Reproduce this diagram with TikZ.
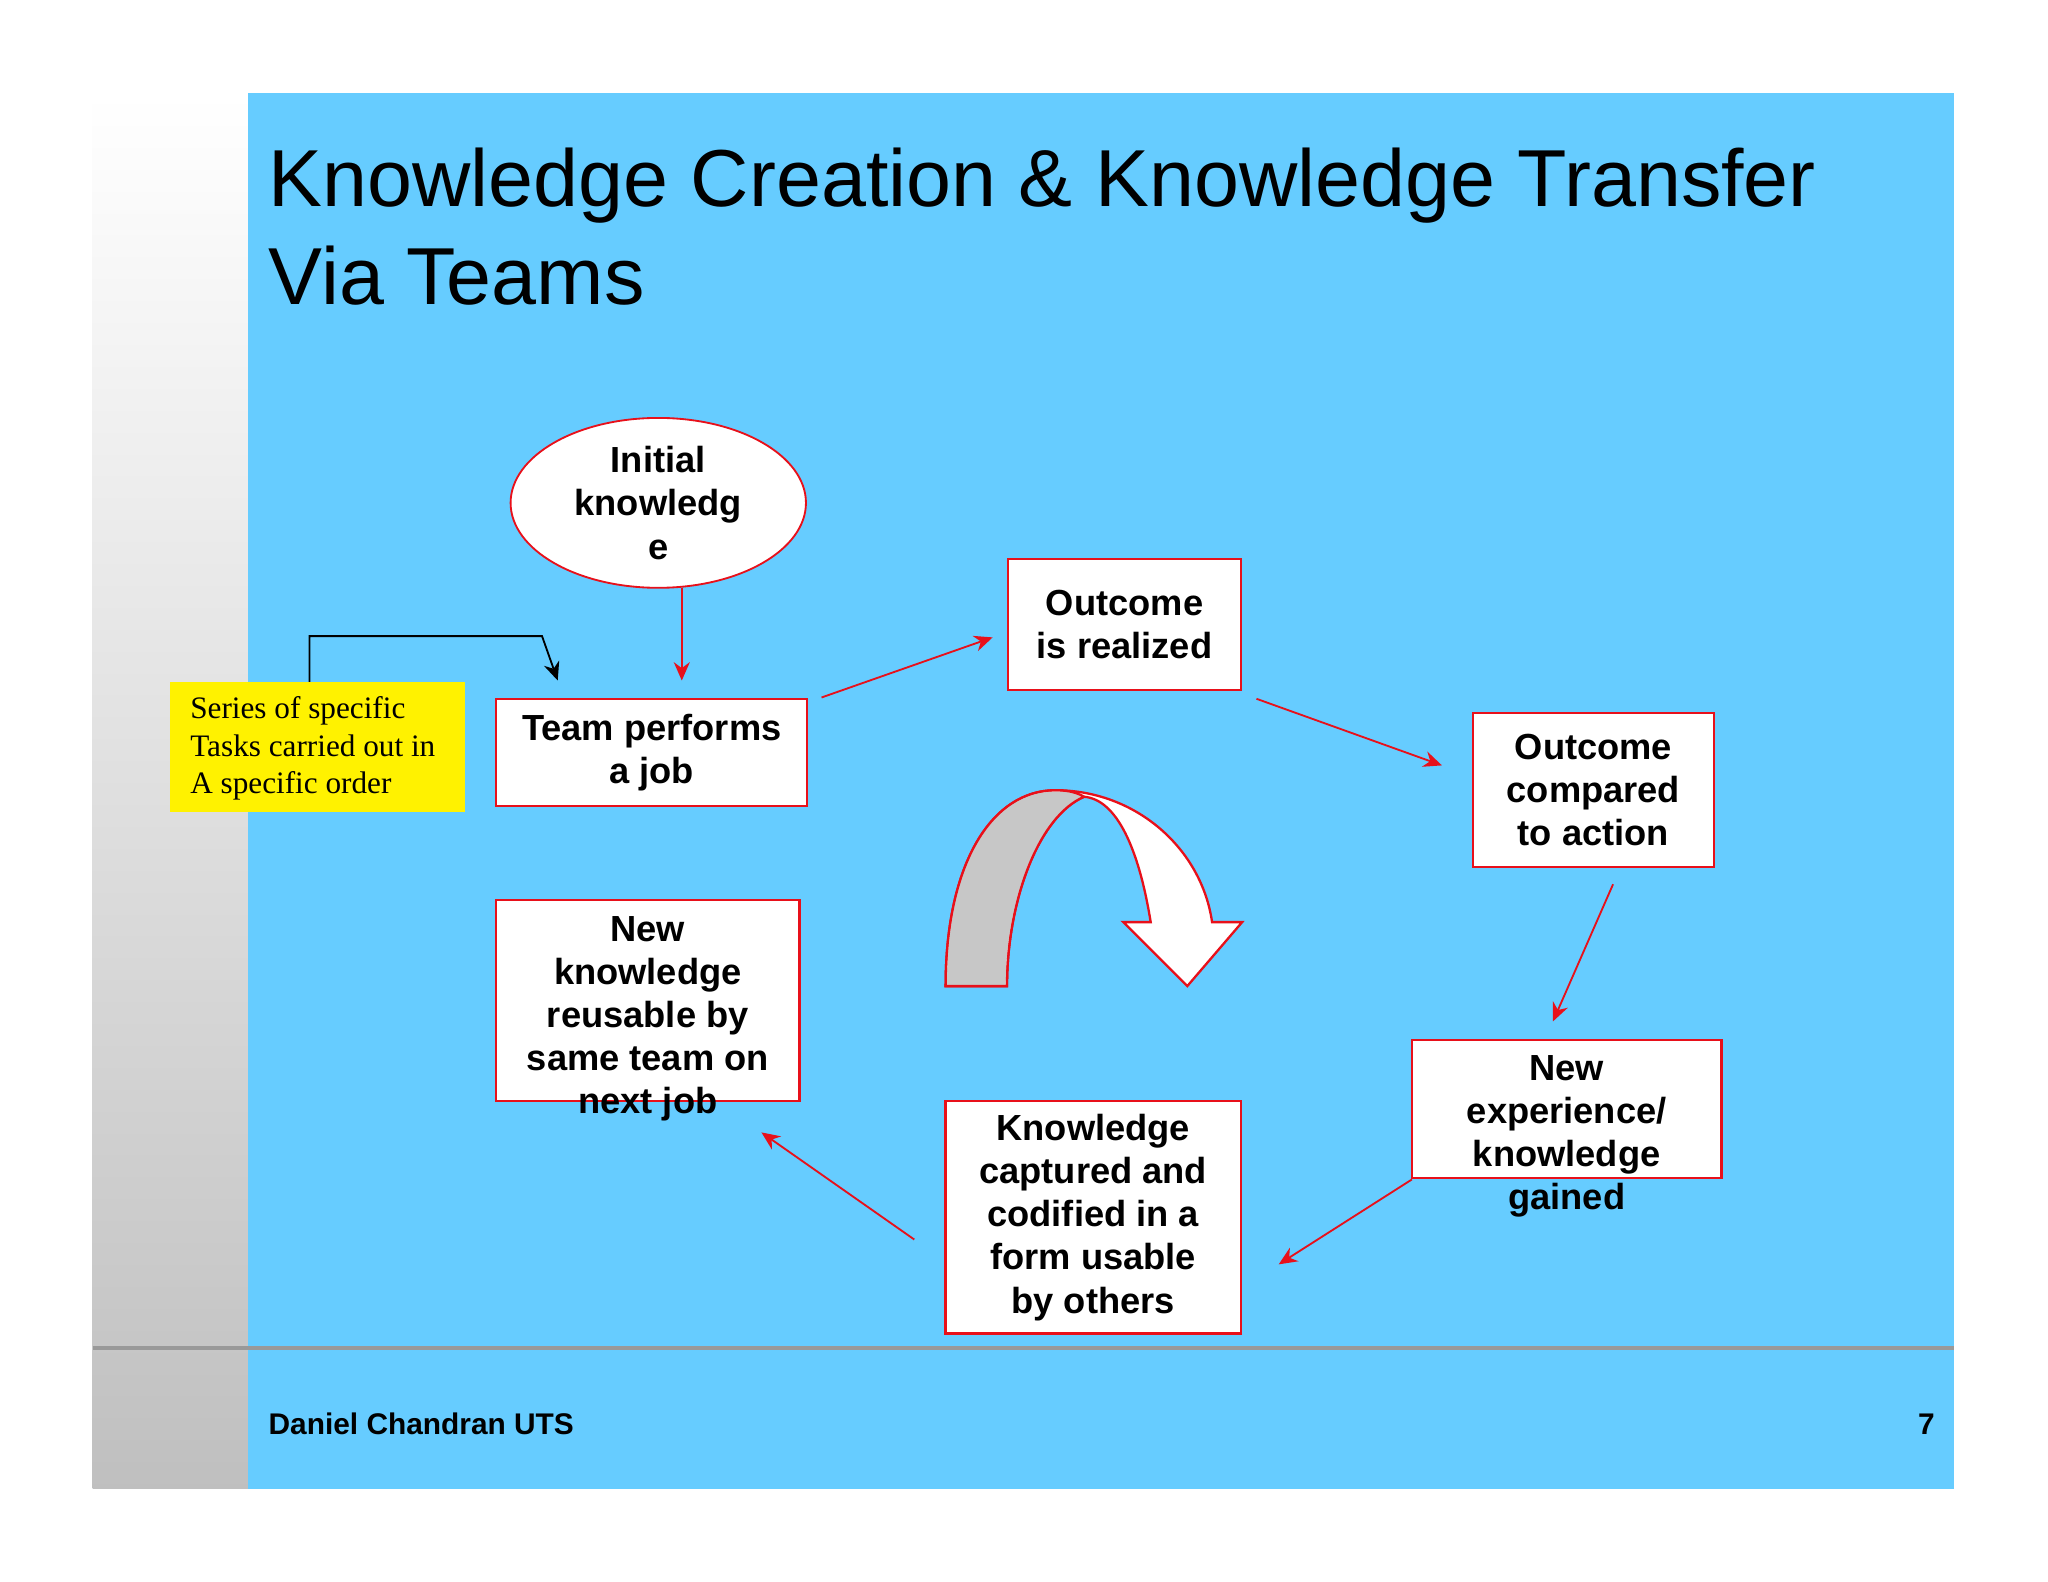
\documentclass[tikz,border=0pt]{standalone}
\usepackage{fontspec}
\setmainfont{Liberation Sans}
\newfontfamily\serifx{Liberation Serif}
\usetikzlibrary{shapes.geometric,arrows.meta}
\definecolor{sky}{HTML}{66CCFF}
\definecolor{redb}{HTML}{E8101A}
\begin{document}
\begin{tikzpicture}[x=0.01cm,y=-0.01cm,
  btxt/.style={font=\bfseries\fontsize{7.9}{9.4}\selectfont,align=center},
  box/.style={draw=redb,fill=white,line width=0.5pt,inner sep=0pt,btxt},
  rarr/.style={draw=redb,line width=0.4pt,-{Stealth[length=4pt,width=3.5pt]}}]
\useasboundingbox (0,0) rectangle (1568,1211);
\fill[white] (0,0) rectangle (1568,1211);
\shade[top color=white,bottom color=black!25] (71,71) rectangle (190,1140);
\fill[sky] (190,71) rectangle (1496,1140);
\draw[black!40,line width=1pt] (71,1032) -- (1496,1032);
\node[anchor=base west,font=\fontsize{17.6}{21.3}\selectfont,align=left,inner sep=0] (title) at (205,233) {Knowledge Creation \& Knowledge Transfer\\Via Teams};
% nodes
\node[draw=redb,fill=white,ellipse,minimum width=2.26cm,minimum height=1.3cm,inner sep=0,btxt] (ik) at (504,385) {Initial\\knowledg\\e};
\node[box,minimum width=2.38cm,minimum height=0.82cm] (team) at (499,576) {Team performs\\a job};
\node[box,minimum width=1.78cm,minimum height=1cm] (real) at (861,478) {Outcome\\is realized};
\node[box,minimum width=1.84cm,minimum height=1.18cm] (comp) at (1220,605) {Outcome\\compared\\to action};
\node[box,minimum width=2.37cm,minimum height=1.06cm] (exp) at (1199.5,849) {};
\node[btxt] (expt) at (1199.5,870) {New\\experience/\\knowledge\\gained};
\node[box,minimum width=2.26cm,minimum height=1.78cm] (cap) at (837,932) {Knowledge\\captured and\\codified in a\\form usable\\by others};
\node[box,minimum width=2.32cm,minimum height=1.54cm] (newk) at (496,766) {};
\node[btxt] (newkt) at (496,780) {New\\knowledge\\reusable by\\same team on\\next job};
\node[fill=yellow,minimum width=2.26cm,minimum height=1cm,inner sep=0] (ser) at (243,572) {};
\node[anchor=west,font=\serifx\fontsize{6.8}{8.2}\selectfont,align=left,inner sep=0] (sert) at (145,573) {Series of specific\\Tasks carried out in\\A specific order};
% arrows
\coordinate (a1) at (522,450); \coordinate (a2) at (522,521);
\draw[rarr] (a1) -- (a2);
\coordinate (b1) at (629,534); \coordinate (b2) at (760,488);
\draw[rarr] (b1) -- (b2);
\coordinate (c1) at (962,535); \coordinate (c2) at (1104,586);
\draw[rarr] (c1) -- (c2);
\coordinate (d1) at (1235,677); \coordinate (d2) at (1189,782);
\draw[rarr] (d1) -- (d2);
\coordinate (e1) at (1081,903); \coordinate (e2) at (979,968);
\draw[rarr] (e1) -- (e2);
\coordinate (f1) at (700,949); \coordinate (f2) at (583,867);
\draw[rarr] (f1) -- (f2);
\coordinate (g1) at (237,522); \coordinate (g2) at (237,487); \coordinate (g3) at (415,487); \coordinate (g4) at (427,521);
\draw[line width=0.4pt,-{Stealth[length=4pt,width=3.5pt]}] (g1) -- (g2) -- (g3) -- (g4);
% curved arrow
\draw[redb,fill=white,line width=0.5pt] (724,755) .. controls (724,660) and (760,605) .. (808,605)
  .. controls (870,605) and (920,650) .. (928,706) -- (951,706) -- (909,755) -- (860,706) -- (881,706)
  .. controls (872,650) and (855,612) .. (830,610)
  .. controls (795,625) and (771,690) .. (771,755) -- cycle;
\fill[black!22] (725,754) .. controls (725,660) and (760,606) .. (808,606)
  .. controls (818,606) and (825,607) .. (829,611)
  .. controls (795,625) and (770,690) .. (770,754) -- cycle;
\draw[redb,line width=0.5pt] (724,755) .. controls (724,660) and (760,605) .. (808,605)
  .. controls (818,605) and (825,607) .. (830,610)
  .. controls (795,625) and (771,690) .. (771,755) -- cycle;
% footer
\node[anchor=base west,font=\bfseries\fontsize{6.5}{8}\selectfont,inner sep=0] (foot) at (205,1098) {Daniel Chandran UTS};
\node[anchor=base east,font=\bfseries\fontsize{6.5}{8}\selectfont,inner sep=0] (pg) at (1482,1098) {7};
\end{tikzpicture}
\end{document}
